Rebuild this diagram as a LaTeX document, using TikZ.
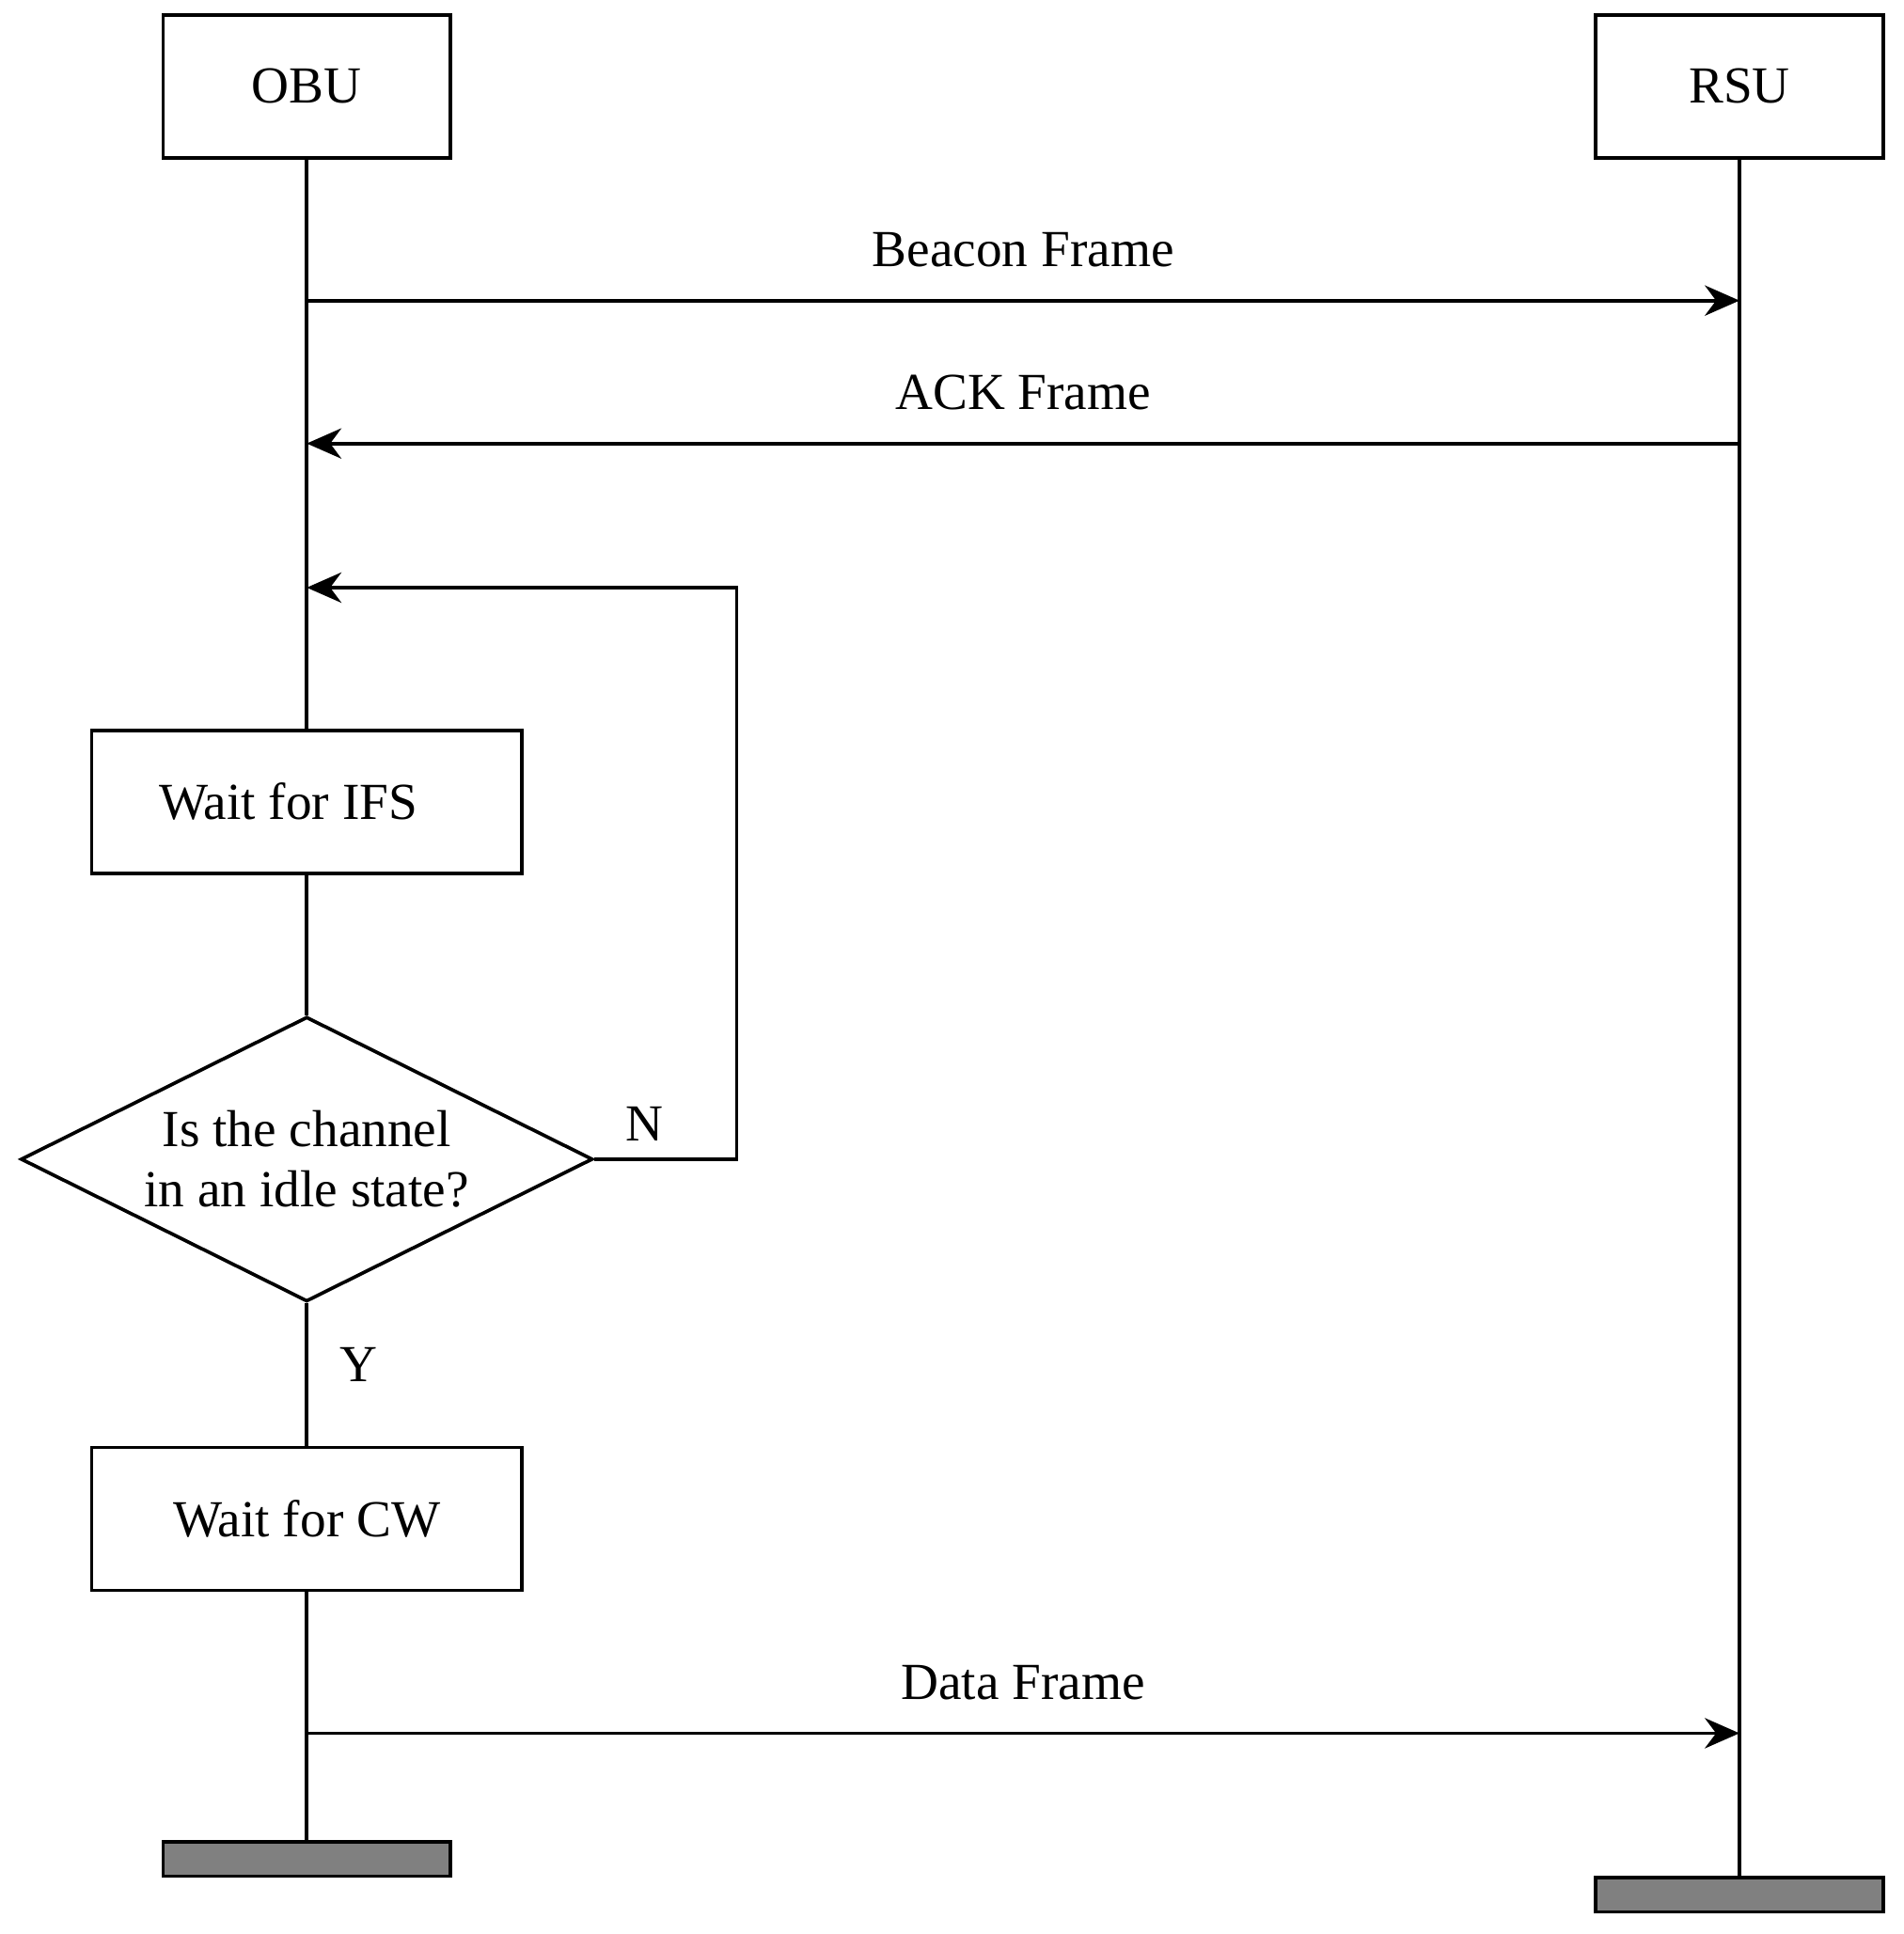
\documentclass[tikz,border=0pt]{standalone}
\usepackage{fontspec}
\setmainfont{Liberation Serif}
\usetikzlibrary{shapes.geometric,arrows.meta}
\begin{document}
\begin{tikzpicture}[x=0.01cm,y=-0.01cm,line width=0.8pt,
 box/.style={draw,minimum width=233\pgflinewidth*0+2.33cm,minimum height=1.16cm,inner sep=0pt},
 wbox/.style={draw,minimum width=3.49cm,minimum height=1.16cm,inner sep=0pt},
 bar/.style={draw,fill=gray!95!black,fill=gray,minimum width=2.33cm,minimum height=0.28cm,inner sep=0pt},
 msg/.style={-{Stealth[length=8pt,width=7pt]}},
 lbl/.style={font=\fontsize{12}{14}\selectfont},
 every node/.style={font=\fontsize{12}{14}\selectfont}]
\useasboundingbox (0,0) rectangle (1545,1570);
\node[box] (obu) at (249,70) {OBU};
\node[box] (rsu) at (1412,70) {RSU};
\node[bar] (obuend) at (249,1509) {};
\node[bar] (rsuend) at (1412,1538) {};
\node[wbox] (ifs) at (249,651) {\hspace*{-0.3cm}Wait for IFS};
\node[wbox] (cw) at (249,1233) {Wait for CW};
\node[draw,diamond,aspect=2,minimum width=4.64cm,minimum height=2.31cm,inner sep=0pt,align=center] (dec) at (249,941) {Is the channel\\in an idle state?};
\coordinate (o1) at (249,244); \coordinate (r1) at (1412,244);
\coordinate (o2) at (249,360); \coordinate (r2) at (1412,360);
\coordinate (o3) at (249,477); \coordinate (l3) at (598,477); \coordinate (l4) at (598,941);
\coordinate (o4) at (249,1407); \coordinate (r4) at (1412,1407);
\draw (obu.south) -- (ifs.north);
\draw (ifs.south) -- (dec.north);
\draw (dec.south) -- (cw.north);
\draw (cw.south) -- (obuend.north);
\draw (rsu.south) -- (rsuend.north);
\draw[msg] (o1) -- node[above=4pt]{Beacon Frame} (r1);
\draw[msg] (r2) -- node[above=4pt]{ACK Frame} (o2);
\draw[msg] (dec.east) -- (l4) -- (l3) -- (o3);
\draw[msg] (o4) -- node[above=4pt]{Data Frame} (r4);
\node at (523,912) {N};
\node at (291,1108) {Y};
\end{tikzpicture}
\end{document}
